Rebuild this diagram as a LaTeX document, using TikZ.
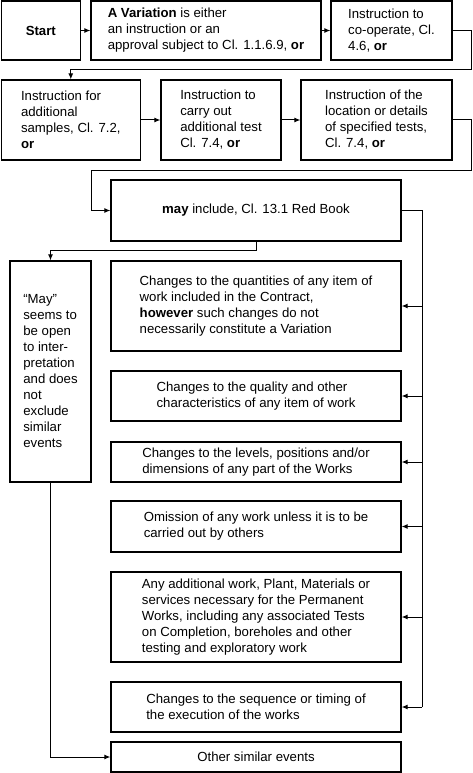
\documentclass[tikz,border=0pt]{standalone}
\usepackage{fontspec}
\setmainfont{Liberation Sans}
\usetikzlibrary{arrows.meta}
\begin{document}
\begin{tikzpicture}[x=1pt,y=-1pt,
  box/.style={draw, line width=1.3pt, align=left, inner sep=0pt, font=\fontsize{13.2}{16}\selectfont},
  conn/.style={line width=1pt, -{Latex[length=6pt,width=5pt]}},
  wire/.style={line width=1pt}]
\useasboundingbox (0,0) rectangle (472,773);
% row 1
\node[box, minimum width=79pt, minimum height=59pt] (start) at (40.8,30.5) {\textbf{Start}};
\node[box, minimum width=230pt, minimum height=59pt] (var) at (206,30.5) {\textbf{A Variation} is either\\an instruction or an\\approval subject to Cl. 1.1.6.9, \textbf{or}};
\node[box, minimum width=121pt, minimum height=59pt] (coop) at (391.5,30.5) {Instruction to\\co-operate, Cl.\\4.6, \textbf{or}};
% row 2
\node[box, minimum width=139pt, minimum height=80pt] (samp) at (70.8,120) {Instruction for\\additional\\samples, Cl. 7.2,\\\textbf{or}};
\node[box, minimum width=120pt, minimum height=80pt] (test) at (221,120) {Instruction to\\carry out\\additional test\\Cl. 7.4, \textbf{or}};
\node[box, minimum width=151pt, minimum height=80pt] (loc) at (376.5,120) {Instruction of the\\location or details\\of specified tests,\\Cl. 7.4, \textbf{or}};
% may
\node[box, minimum width=290pt, minimum height=61pt] (may) at (256,210.5) {\textbf{may} include, Cl. 13.1 Red Book};
% left
\node[box, minimum width=81pt, minimum height=221pt] (left) at (50.5,371.5) {“May”\\seems to\\be open\\to inter-\\pretation\\and does\\not\\exclude\\similar\\events};
% items
\node[box, minimum width=290pt, minimum height=90pt] (q1) at (256,306) {Changes to the quantities of any item of\\work included in the Contract,\\\textbf{however} such changes do not\\necessarily constitute a Variation};
\node[box, minimum width=290pt, minimum height=50pt] (q2) at (256,396) {Changes to the quality and other\\characteristics of any item of work};
\node[box, minimum width=290pt, minimum height=40pt] (q3) at (256,462) {Changes to the levels, positions and/or\\dimensions of any part of the Works};
\node[box, minimum width=290pt, minimum height=51pt] (q4) at (256,526.5) {Omission of any work unless it is to be\\carried out by others};
\node[box, minimum width=290pt, minimum height=90pt] (q5) at (256,617) {Any additional work, Plant, Materials or\\services necessary for the Permanent\\Works, including any associated Tests\\on Completion, boreholes and other\\testing and exploratory work};
\node[box, minimum width=290pt, minimum height=50pt] (q6) at (256,707) {Changes to the sequence or timing of\\the execution of the works};
\node[box, minimum width=290pt, minimum height=30pt] (other) at (256,757) {Other similar events};
% coordinates
\coordinate (c1) at (471,70);
\coordinate (c2) at (471,170);
\coordinate (c3) at (91,170);
\coordinate (c5) at (422,707);
\coordinate (c6) at (50.5,250);
% connectors
\draw[conn] (start) -- (var);
\draw[conn] (var) -- (coop);
\draw[conn] (coop.east) -| (c1) -| (samp.north);
\draw[conn] (samp) -- (test);
\draw[conn] (test) -- (loc);
\draw[conn] (loc.east) -| (c2) -- (c3) |- (may.west);
\draw[wire] (may.east) -| (c5);
\draw[conn] (c5) -- (q6.east);
\foreach \q in {q1,q2,q3,q4,q5}{
  \draw[conn] (\q.east -| c5) -- (\q.east);
}
\draw[conn] (may.south) |- (c6) -- (left.north);
\draw[conn] (left.south) |- (other.west);
\end{tikzpicture}
\end{document}
